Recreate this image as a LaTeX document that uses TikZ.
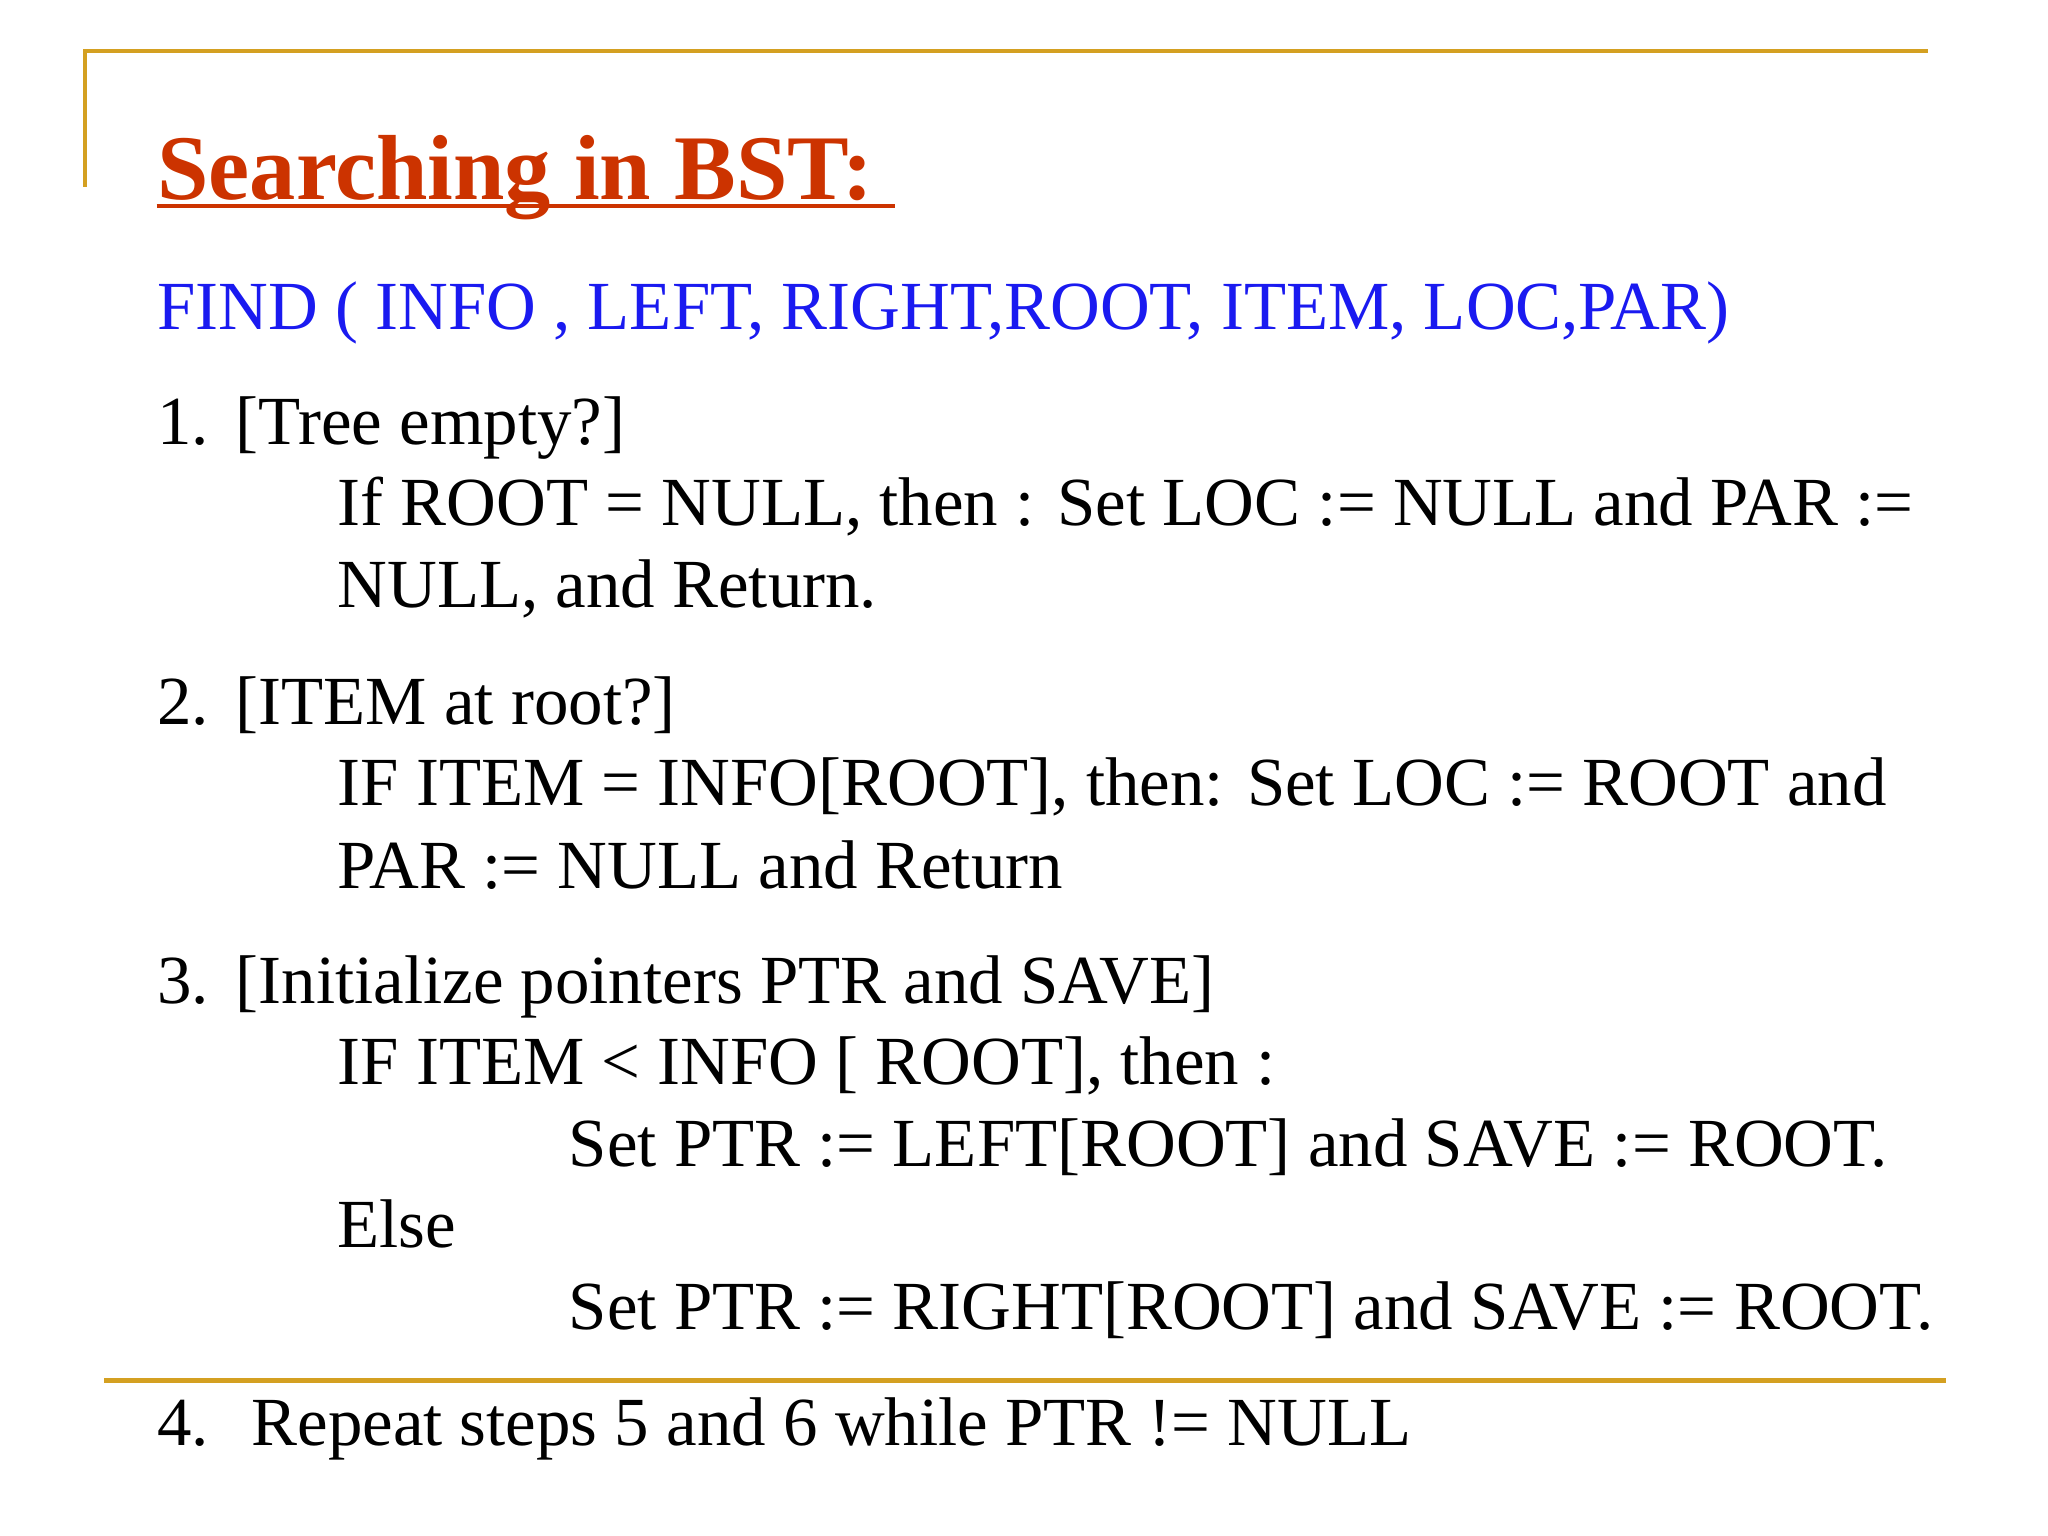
\documentclass[tikz,border=0pt]{standalone}
\usepackage{fontspec}
\setmainfont{Liberation Serif}
\definecolor{gold}{HTML}{D4A021}
\definecolor{titlered}{HTML}{CC3300}
\definecolor{findblue}{HTML}{1A1AF0}
\begin{document}
\begin{tikzpicture}[x=0.01306cm,y=-0.01306cm,
  txt/.style={anchor=base west,inner sep=0pt,font=\fontsize{19.6}{24}\selectfont},
  rule/.style={gold,line width=1.3pt}]
\useasboundingbox (0,0) rectangle (1568,1176);
\draw[rule] (65,143) -- (65,39) -- (1476,39);
\draw[rule] (80,1057) -- (1490,1057);
\node[txt,font=\fontsize{26.3}{30}\bfseries,text=titlered] (title) at (120,153) {Searching in BST:};
\draw[titlered,line width=1.1pt] (120,158) -- (685,158);
\node[txt,text=findblue] (find) at (120,252) {FIND ( INFO , LEFT, RIGHT,ROOT, ITEM, LOC,PAR)};
\node[txt] (n1) at (120,340) {1.};
\node[txt] (s1) at (180,340) {[Tree empty?]};
\node[txt] (s1a) at (258,402) {If ROOT = NULL, then : Set LOC := NULL and PAR :=};
\node[txt] (s1b) at (258,465) {NULL, and Return.};
\node[txt] (n2) at (120,555) {2.};
\node[txt] (s2) at (180,555) {[ITEM at root?]};
\node[txt] (s2a) at (258,617) {IF ITEM = INFO[ROOT], then: Set LOC := ROOT and};
\node[txt] (s2b) at (258,680) {PAR := NULL and Return};
\node[txt] (n3) at (120,768) {3.};
\node[txt] (s3) at (180,768) {[Initialize pointers PTR and SAVE]};
\node[txt] (s3a) at (258,830) {IF ITEM < INFO [ ROOT], then :};
\node[txt] (s3b) at (435,893) {Set PTR := LEFT[ROOT] and SAVE := ROOT.};
\node[txt] (s3c) at (258,955) {Else};
\node[txt] (s3d) at (435,1018) {Set PTR := RIGHT[ROOT] and SAVE := ROOT.};
\node[txt] (n4) at (120,1107) {4.};
\node[txt] (s4) at (192,1107) {Repeat steps 5 and 6 while PTR != NULL};
\end{tikzpicture}
\end{document}
